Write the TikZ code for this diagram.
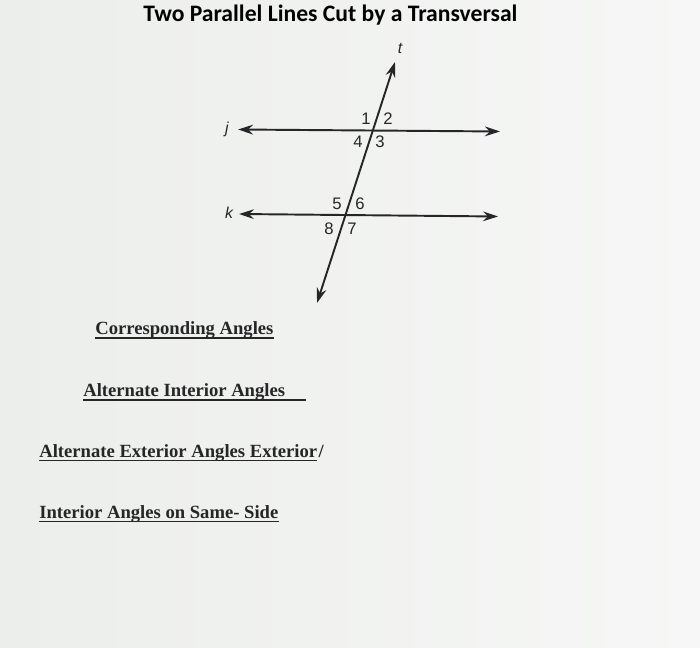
\documentclass[tikz,border=0pt]{standalone}
\usepackage{fontspec}
\setmainfont{Liberation Serif}
\newfontfamily\titlefont{Carlito}
\newfontfamily\figfont{Liberation Sans}
\usetikzlibrary{arrows.meta,positioning}
\definecolor{paper}{RGB}{236,238,235}
\definecolor{paperR}{RGB}{246,247,246}
\definecolor{ink}{RGB}{38,38,40}

\begin{document}
\begin{tikzpicture}[x=0.02cm,y=-0.02cm,
  line/.style={draw=ink,line width=1.1pt,{Stealth[length=8.5pt,width=5.5pt]}-{Stealth[length=8.5pt,width=5.5pt]}},
  num/.style={font=\figfont\fontsize{9.5}{11}\selectfont,text=ink,inner sep=0pt},
  linename/.style={font=\figfont\itshape\fontsize{9}{11}\selectfont,text=ink,inner sep=0pt},
  kind/.style={font=\bfseries\fontsize{10.6}{13}\selectfont,text=ink,inner sep=0pt,anchor=base west},
  uline/.style={draw=ink,line width=0.8pt}]
\shade[left color=paper,right color=paperR](0,0)rectangle(700,648);
\useasboundingbox(0,0)rectangle(700,648);
\node[anchor=base west,inner sep=0pt,text=black,font=\titlefont\bfseries\fontsize{13.45}{16}\selectfont](title)at(143,21.5){Two Parallel Lines Cut by a Transversal};
% lines j, k and t
\coordinate(jL)at(238,129.5);
\coordinate(jR)at(500,131.5);
\coordinate(kL)at(239,214);
\coordinate(kR)at(498,216.5);
\coordinate(tT)at(395,62);
\coordinate(tB)at(317,303);
\draw[line](jL)--(jR);
\draw[line](kL)--(kR);
\draw[line](tB)--(tT);
\node[linename](j)at(227,129){j};
\node[linename](k)at(229,213){k};
\node[linename](t)at(400,48){t};
% angle numbers
\node[num](a1)at(366,119){1};
\node[num](a2)at(388,119){2};
\node[num](a4)at(358,142){4};
\node[num](a3)at(380,142){3};
\node[num](a5)at(337,204){5};
\node[num](a6)at(360,204){6};
\node[num](a8)at(329,229){8};
\node[num](a7)at(352,229){7};
% kinds of angle pairs
\node[kind](ca)at(95,335){Corresponding Angles};
\draw[uline]([yshift=-1.6pt]ca.base west)--([yshift=-1.6pt]ca.base east);
\node[kind](ai)at(83,397){Alternate Interior Angles};
\coordinate(aiEnd)at(306,397);
\draw[uline]([yshift=-1.6pt]ai.base west)--([yshift=-1.6pt]aiEnd);
\node[kind](ae)at(39,457.5){Alternate Exterior Angles Exterior};
\draw[uline]([yshift=-1.6pt]ae.base west)--([yshift=-1.6pt]ae.base east);
\node[kind,right=0.5pt of ae.base east,anchor=base west](sl){/};
\node[kind](ss)at(39,518.5){Interior Angles on Same- Side};
\draw[uline]([yshift=-1.6pt]ss.base west)--([yshift=-1.6pt]ss.base east);
\end{tikzpicture}
\end{document}
